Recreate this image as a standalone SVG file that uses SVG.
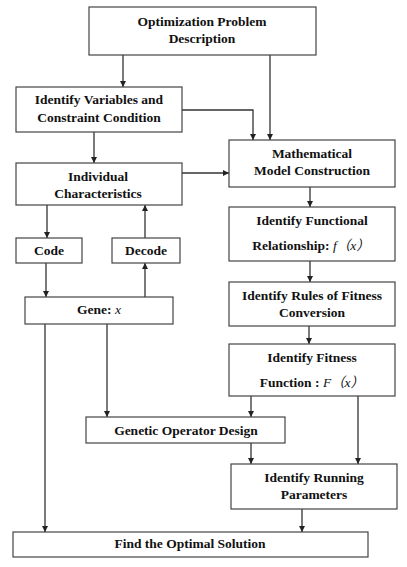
<svg xmlns="http://www.w3.org/2000/svg" width="407" height="567" viewBox="0 0 407 567">
<style>
.b{fill:#fff;stroke:#444;stroke-width:1.2}
.t{font-family:"Liberation Serif","Times New Roman","Noto Sans CJK SC",serif;font-weight:bold;font-size:13.5px;fill:#111;text-anchor:middle}
.i{font-style:italic;font-weight:normal}
.c{fill:none;stroke:#333;stroke-width:1.3}
</style>
<defs>
<marker id="a" viewBox="0 0 10 10" refX="10" refY="5" markerWidth="6" markerHeight="6" orient="auto" markerUnits="userSpaceOnUse"><path d="M0,0L10,5L0,10z" fill="#222"/></marker>
</defs>
<g id="connectors">
<path class="c" marker-end="url(#a)" d="M123,55V87"/>
<path class="c" marker-end="url(#a)" d="M270,55V140"/>
<path class="c" marker-end="url(#a)" d="M182,110H253V140"/>
<path class="c" marker-end="url(#a)" d="M94,132V163"/>
<path class="c" marker-end="url(#a)" d="M182,173H229"/>
<path class="c" marker-end="url(#a)" d="M47,205V238"/>
<path class="c" marker-end="url(#a)" d="M145,238V205"/>
<path class="c" marker-end="url(#a)" d="M46,263V297"/>
<path class="c" marker-end="url(#a)" d="M145,297V263"/>
<path class="c" marker-end="url(#a)" d="M310,187V207"/>
<path class="c" marker-end="url(#a)" d="M310,261V282"/>
<path class="c" marker-end="url(#a)" d="M309,326V344"/>
<path class="c" marker-end="url(#a)" d="M107,324V417"/>
<path class="c" marker-end="url(#a)" d="M251,396V417"/>
<path class="c" marker-end="url(#a)" d="M358,396V464"/>
<path class="c" marker-end="url(#a)" d="M251,443V464"/>
<path class="c" marker-end="url(#a)" d="M45,324V532"/>
<path class="c" marker-end="url(#a)" d="M302,509V532"/>
</g>
<g id="n1"><rect class="b" x="89" y="7" width="227" height="48"/><text class="t" x="202" y="26">Optimization Problem</text><text class="t" x="202" y="43">Description</text></g>
<g id="n2"><rect class="b" x="16" y="87" width="166" height="45"/><text class="t" x="99" y="104">Identify Variables and</text><text class="t" x="99" y="122">Constraint Condition</text></g>
<g id="n3"><rect class="b" x="229" y="140" width="166" height="47"/><text class="t" x="312" y="158">Mathematical</text><text class="t" x="312" y="175">Model Construction</text></g>
<g id="n4"><rect class="b" x="16" y="163" width="166" height="42"/><text class="t" x="98" y="181">Individual</text><text class="t" x="98" y="198">Characteristics</text></g>
<g id="n5"><rect class="b" x="16" y="238" width="66" height="25"/><text class="t" x="49" y="255">Code</text></g>
<g id="n6"><rect class="b" x="112" y="238" width="68" height="25"/><text class="t" x="146" y="255">Decode</text></g>
<g id="n7"><rect class="b" x="25" y="297" width="148" height="27"/><text class="t" x="99" y="314">Gene: <tspan class="i">x</tspan></text></g>
<g id="n8"><rect class="b" x="229" y="207" width="166" height="54"/><text class="t" x="312" y="225">Identify Functional</text><text class="t" x="311" y="250">Relationship: <tspan class="i">f（x）</tspan></text></g>
<g id="n9"><rect class="b" x="229" y="282" width="166" height="44"/><text class="t" x="312" y="300">Identify Rules of Fitness</text><text class="t" x="312" y="317">Conversion</text></g>
<g id="n10"><rect class="b" x="229" y="344" width="166" height="52"/><text class="t" x="312" y="362">Identify Fitness</text><text class="t" x="312" y="387">Function : <tspan class="i">F（x）</tspan></text></g>
<g id="n11"><rect class="b" x="86" y="417" width="199" height="26"/><text class="t" x="186" y="435">Genetic Operator Design</text></g>
<g id="n12"><rect class="b" x="231" y="464" width="166" height="45"/><text class="t" x="314" y="482">Identify Running</text><text class="t" x="314" y="499">Parameters</text></g>
<g id="n13"><rect class="b" x="13" y="532" width="355" height="25"/><text class="t" x="190" y="548">Find the Optimal Solution</text></g>
</svg>
